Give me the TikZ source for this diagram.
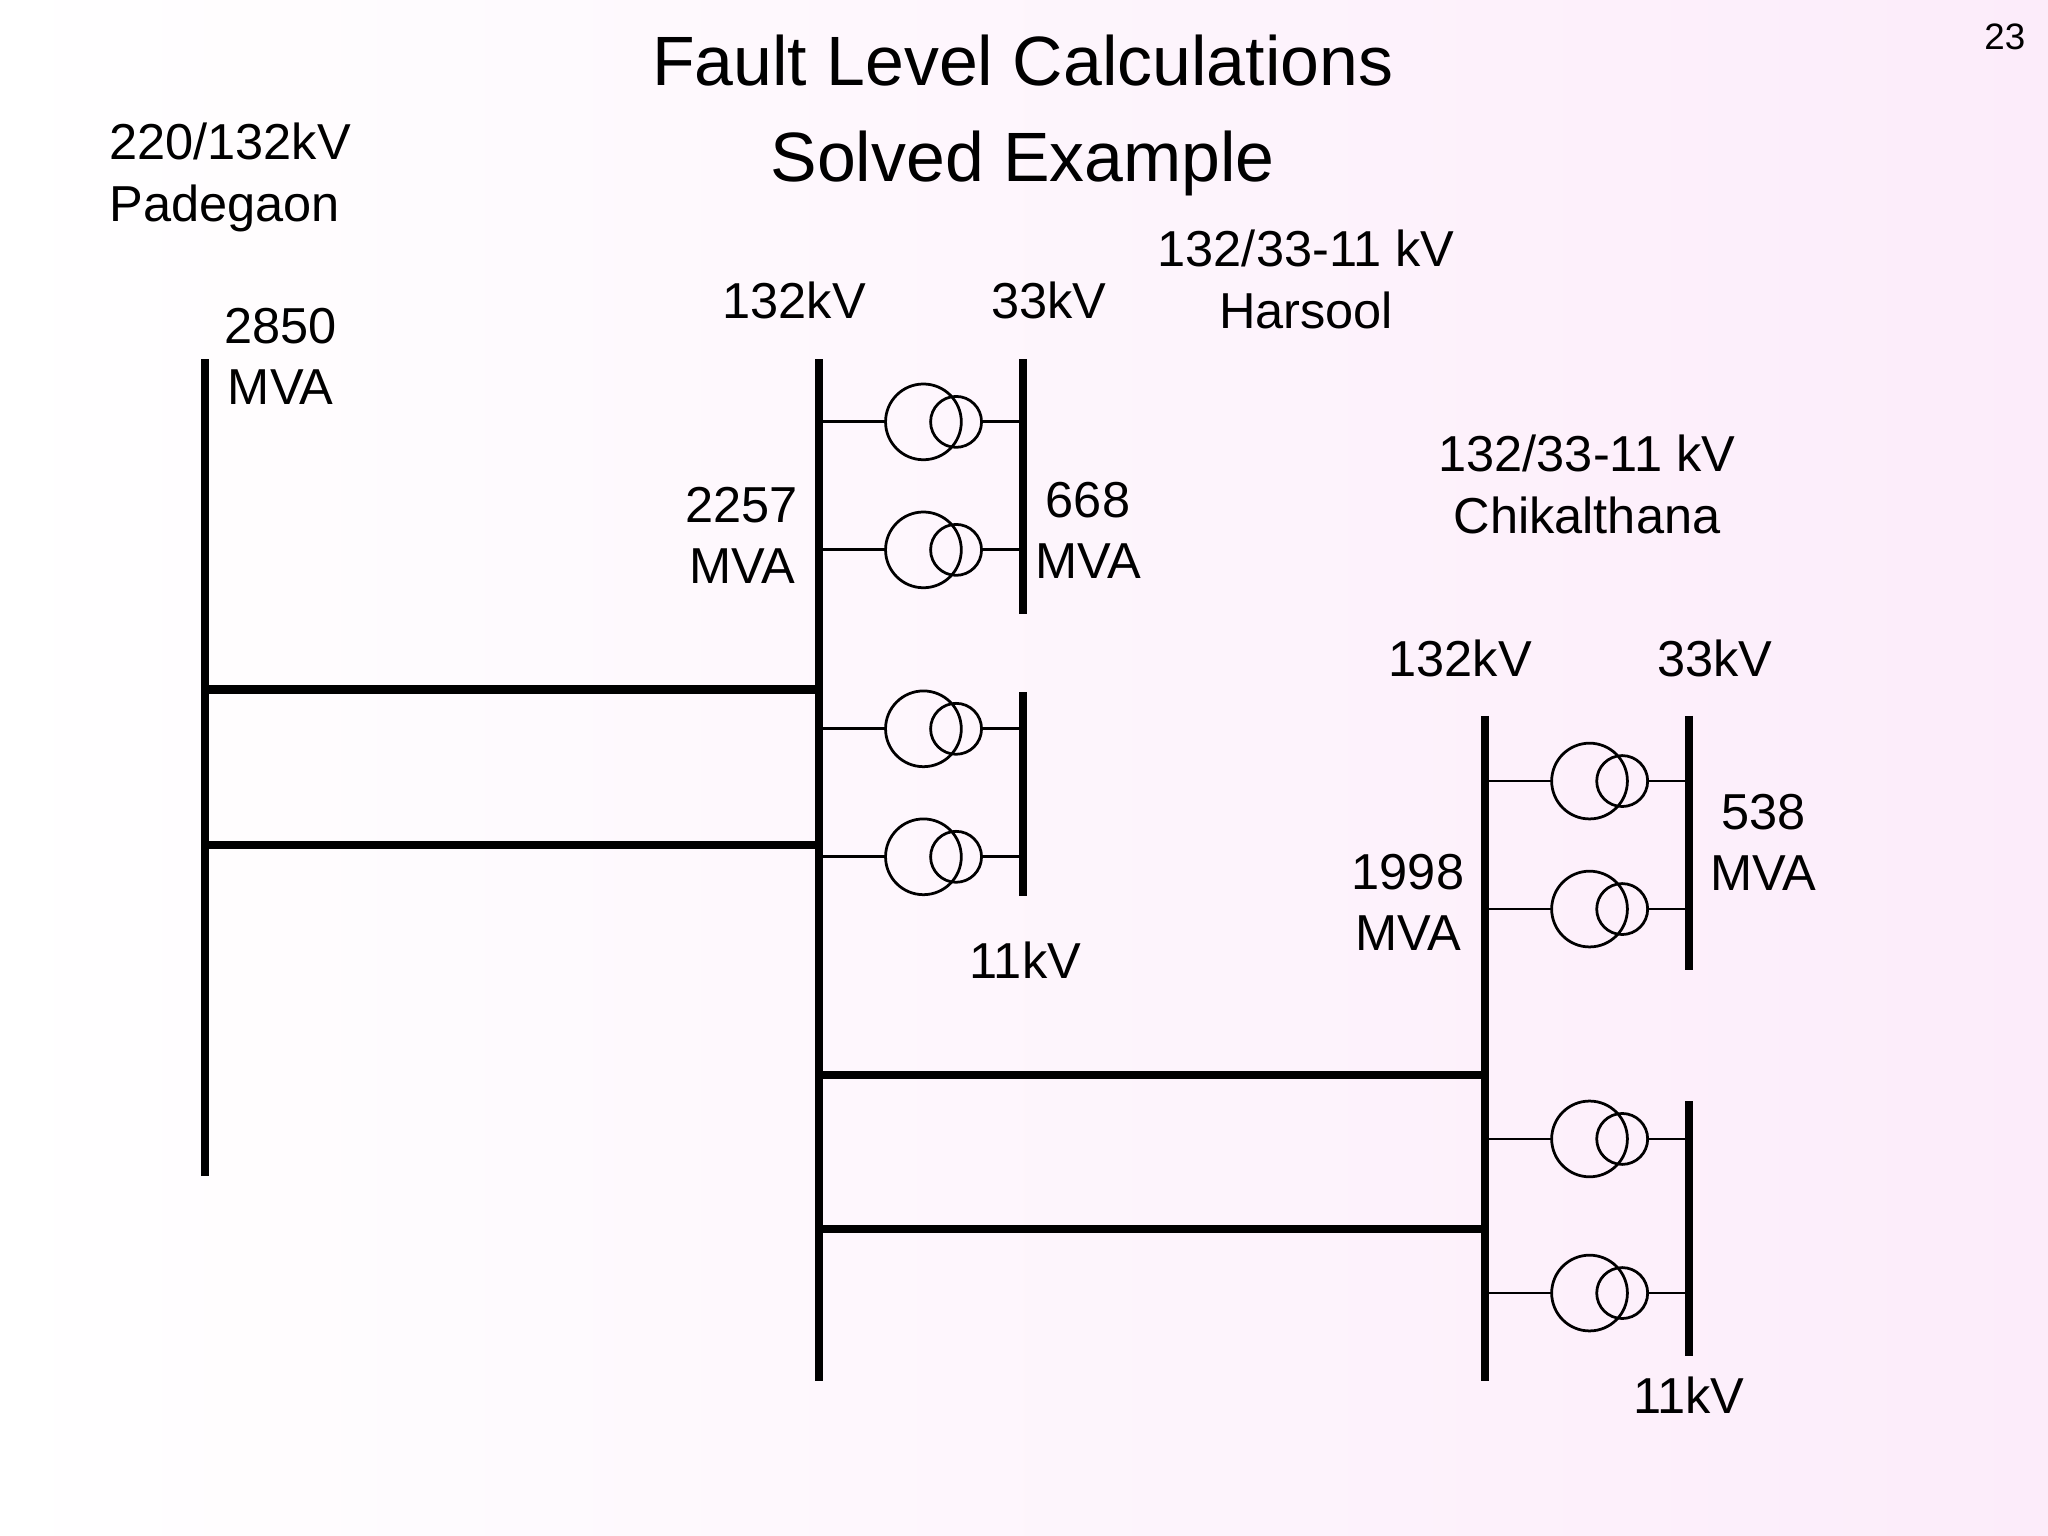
\documentclass[tikz,border=0pt]{standalone}
\usepackage{fontspec}
\setmainfont{Liberation Sans}
\begin{document}
\begin{tikzpicture}[x=0.01cm,y=-0.01cm,
  bus/.style={line width=1.8pt},
  tie/.style={line width=1.8pt},
  thin/.style={line width=0.6pt},
  lbl/.style={font=\fontsize{11}{13.4}\selectfont,align=center,inner sep=0},
  ttl/.style={font=\fontsize{15.2}{18}\selectfont,inner sep=0}]
\shade[shading angle=135,left color=white,right color={rgb,255:red,252;green,236;blue,250}] (0,0) rectangle (1568,1176);
\useasboundingbox (0,0) rectangle (1568,1176);
\node[ttl] (t1) at (783,46) {Fault Level Calculations};
\node[ttl] (t2) at (783,125) {Solved Example};
\node[lbl,font=\fontsize{8}{10}\selectfont] (pg) at (1535,28) {23};
% buses
\coordinate (P1) at (157,275); \coordinate (P2) at (157,900);
\draw[bus] (P1) -- (P2);
\coordinate (H1) at (627,275); \coordinate (H2) at (627,1057);
\draw[bus] (H1) -- (H2);
\draw[bus] (783,275) coordinate (Ha) -- (783,470) coordinate (Hb);
\draw[bus] (783,530) coordinate (Hc) -- (783,686) coordinate (Hd);
\coordinate (C1) at (1137,548); \coordinate (C2) at (1137,1057);
\draw[bus] (C1) -- (C2);
\draw[bus] (1293,548) coordinate (Ca) -- (1293,743) coordinate (Cb);
\draw[bus] (1293,843) coordinate (Cc) -- (1293,1038) coordinate (Cd);
% ties
\draw[tie] (157,528) coordinate (l1a) -- (627,528) coordinate (l1b);
\draw[tie] (157,647) coordinate (l2a) -- (627,647) coordinate (l2b);
\draw[tie] (627,823) coordinate (l3a) -- (1137,823) coordinate (l3b);
\draw[tie] (627,941) coordinate (l4a) -- (1137,941) coordinate (l4b);
% transformers
\foreach \xa/\xb/\y in {627/783/323,627/783/421,627/783/558,627/783/656,1137/1293/598,1137/1293/696,1137/1293/872,1137/1293/990}{
  \draw[thin] (\xa,\y) -- (\xa+51,\y);
  \draw[thin] (\xa+80,\y) circle (29);
  \draw[thin] (\xa+105,\y) circle (19.5);
  \draw[thin] (\xa+124.5,\y) -- (\xb,\y);
}
% labels
\node[lbl,align=left,anchor=west] (pad) at (83,136) {220/132kV\\Padegaon};
\node[lbl] (m1) at (215,273) {2850\\MVA};
\node[lbl] (v1) at (608,230) {132kV};
\node[lbl] (v2) at (803,230) {33kV};
\node[lbl] (har) at (1000,214) {132/33-11 kV\\Harsool};
\node[lbl] (m2) at (568,410) {2257\\MVA};
\node[lbl] (m3) at (833,406) {668\\MVA};
\node[lbl] (v3) at (785,735) {11kV};
\node[lbl] (chi) at (1215,371) {132/33-11 kV\\Chikalthana};
\node[lbl] (v4) at (1118,504) {132kV};
\node[lbl] (v5) at (1313,504) {33kV};
\node[lbl] (m4) at (1078,691) {1998\\MVA};
\node[lbl] (m5) at (1350,645) {538\\MVA};
\node[lbl] (v6) at (1293,1068) {11kV};
\end{tikzpicture}
\end{document}
